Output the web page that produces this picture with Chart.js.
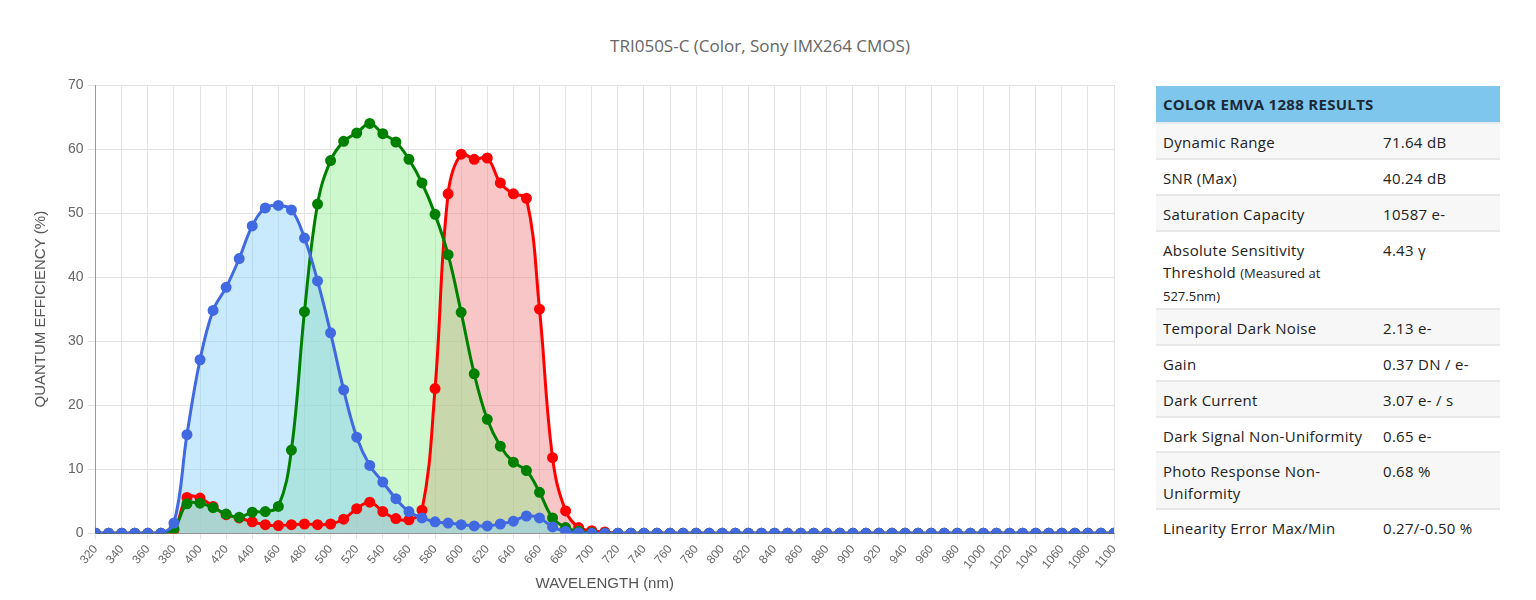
<!DOCTYPE html>
<html>
<head>
<meta charset="utf-8">
<script src="https://cdn.jsdelivr.net/npm/chart.js@4"></script>
<style>
  body { margin: 0; background: #fff; width: 1536px; height: 600px; overflow: hidden; position: relative; font-family: "Open Sans", sans-serif; }
  #title { position: absolute; top: 34px; left: 560px; width: 400px; text-align: center; font-size: 17px; color: #666; }
  #wrap { position: absolute; left: 0; top: 0; width: 1130px; height: 600px; }
  #results { position: absolute; left: 1156px; top: 86px; width: 344px; border-collapse: collapse; font-size: 15px; letter-spacing: 0.3px; color: #222; }
  #results th { background: #7fc6ec; text-align: left; font-weight: 700; font-size: 15px; height: 36px; padding: 0 7px; color: #1c2a38; }
  #results td { padding: 0 7px; border-top: 2px solid #e8e8e8; vertical-align: top; line-height: 22px; }
  #results tr.odd td { background: #f7f7f7; }
  #results td.k { width: 206px; }
  #results small { font-size: 13px; letter-spacing: 0; }
</style>
</head>
<body>
<div id="title">TRI050S-C (Color, Sony IMX264 CMOS)</div>
<div id="wrap"><canvas id="qe"></canvas></div>
<table id="results"></table>
<script>
// wavelength (nm), one point every 10 nm
const wavelengths = [320,330,340,350,360,370,380,390,400,410,420,430,440,450,460,470,480,490,500,510,
  520,530,540,550,560,570,580,590,600,610,620,630,640,650,660,670,680,690,700,710,
  720,730,740,750,760,770,780,790,800,810,820,830,840,850,860,870,880,890,900,910,
  920,930,940,950,960,970,980,990,1000,1010,1020,1030,1040,1050,1060,1070,1080,1090,1100];

const blueQE = [0,0,0,0,0,0,1.6,15.4,27.1,34.8,38.4,42.9,48.0,50.8,51.2,50.5,46.1,39.4,31.3,22.4,
  15.0,10.6,8.0,5.4,3.4,2.4,1.8,1.6,1.35,1.15,1.15,1.45,1.9,2.7,2.4,1.0,0.3,0.1,0,0,
  0,0,0,0,0,0,0,0,0,0,0,0,0,0,0,0,0,0,0,0,
  0,0,0,0,0,0,0,0,0,0,0,0,0,0,0,0,0,0,0];

const greenQE = [0,0,0,0,0,0,0.7,4.6,4.7,4.0,3.0,2.5,3.3,3.4,4.2,13.0,34.6,51.4,58.2,61.2,
  62.5,64.0,62.4,61.1,58.4,54.7,49.8,43.5,34.5,24.9,17.8,13.6,11.1,9.8,6.4,2.4,0.9,0.3,0.1,0,
  0,0,0,0,0,0,0,0,0,0,0,0,0,0,0,0,0,0,0,0,
  0,0,0,0,0,0,0,0,0,0,0,0,0,0,0,0,0,0,0];

const redQE = [0,0,0,0,0,0,0.5,5.6,5.5,4.2,2.9,2.4,1.8,1.35,1.2,1.35,1.45,1.35,1.45,2.2,
  3.85,4.85,3.4,2.3,2.1,3.6,22.6,53.0,59.2,58.4,58.6,54.7,53.0,52.3,35.0,11.8,3.5,0.9,0.4,0.2,
  0,0,0,0,0,0,0,0,0,0,0,0,0,0,0,0,0,0,0,0,
  0,0,0,0,0,0,0,0,0,0,0,0,0,0,0,0,0,0,0];

const xTicks = [320,340,360,380,400,420,440,460,480,500,520,540,560,580,600,620,640,660,680,700,
  720,740,760,780,800,820,840,860,880,900,920,940,960,980,1000,1020,1040,1060,1080,1100];
const yTicks = [0,10,20,30,40,50,60,70];

const resultLabels = ['Dynamic Range','SNR (Max)','Saturation Capacity',
  'Absolute Sensitivity Threshold <small>(Measured at 527.5nm)</small>',
  'Temporal Dark Noise','Gain','Dark Current','Dark Signal Non-Uniformity',
  'Photo Response Non-Uniformity','Linearity Error Max/Min'];
const resultValues = ['71.64 dB','40.24 dB','10587 e-','4.43 γ','2.13 e-','0.37 DN / e-',
  '3.07 e- / s','0.65 e-','0.68 %','0.27/-0.50 %'];
const rowHeights = [36,36,36,78,36,36,36,35,57,36];

function series(label, values, line, fill){
  return {
    label: label,
    data: wavelengths.map((w, i) => ({ x: w, y: values[i] })),
    borderColor: line,
    backgroundColor: fill,
    pointBackgroundColor: line,
    pointBorderColor: line,
    pointRadius: 4,
    borderWidth: 3,
    tension: 0.4,
    fill: 'origin'
  };
}

const grey = '#666';
new Chart(document.getElementById('qe'), {
  type: 'line',
  data: {
    datasets: [
      series('Blue', blueQE, '#4169e1', 'rgba(135,206,250,0.45)'),
      series('Green', greenQE, '#008000', 'rgba(144,238,144,0.45)'),
      series('Red', redQE, '#ff0000', 'rgba(240,128,128,0.45)')
    ]
  },
  options: {
    responsive: true,
    maintainAspectRatio: false,
    animation: false,
    layout: { padding: { left: 28, right: 16, top: 85, bottom: 0 } },
    plugins: {
      legend: { display: false },
      tooltip: { enabled: false },
      filler: { drawTime: 'beforeDatasetsDraw' }
    },
    scales: {
      x: {
        type: 'linear',
        min: 320, max: 1100,
        afterBuildTicks: axis => { axis.ticks = xTicks.map(v => ({ value: v })); },
        ticks: { color: grey, font: { size: 12, family: 'Liberation Sans' }, minRotation: 50, maxRotation: 50, autoSkip: false,
          callback: v => String(v) },
        grid: { color: '#e3e3e3', tickLength: 6 },
        border: { color: '#999' },
        title: { display: true, text: 'WAVELENGTH (nm)', color: '#555', font: { size: 15, family: 'Liberation Sans' }, padding: { top: 0, bottom: 7 } }
      },
      y: {
        min: 0, max: 70,
        afterBuildTicks: axis => { axis.ticks = yTicks.map(v => ({ value: v })); },
        ticks: { color: grey, font: { size: 14, family: 'Liberation Sans' }, padding: 4 },
        grid: { color: '#e3e3e3', tickLength: 8 },
        border: { color: '#999' },
        title: { display: true, text: 'QUANTUM EFFICIENCY (%)', color: '#555', font: { size: 15, family: 'Liberation Sans' }, padding: { top: 4, bottom: 14 } }
      }
    }
  }
});

// results table
const table = document.getElementById('results');
table.innerHTML = '<tr><th colspan="2">COLOR EMVA 1288 RESULTS</th></tr>' +
  resultLabels.map((l, i) =>
    '<tr class="' + (i % 2 === 0 ? 'odd' : 'even') + '" style="height:' + rowHeights[i] + 'px">' +
    '<td class="k" style="padding-top:7px">' + l + '</td><td style="padding-top:7px">' + resultValues[i] + '</td></tr>'
  ).join('');
</script>
</body>
</html>
